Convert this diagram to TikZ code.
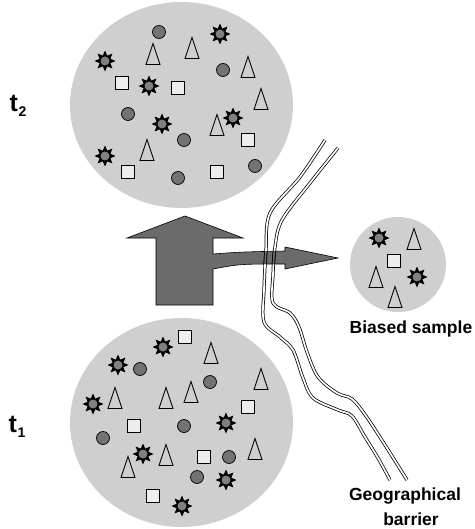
\documentclass[tikz,border=0pt]{standalone}
\usepackage{fontspec}
\setmainfont{Liberation Sans}
\usetikzlibrary{shapes.geometric}
\definecolor{popgray}{gray}{0.81}
\definecolor{dotgray}{gray}{0.45}
\definecolor{arrowgray}{gray}{0.42}
\definecolor{boxgray}{gray}{0.93}
\definecolor{coregray}{gray}{0.5}
\tikzset{
  pop/.style={
    ellipse,
    fill=popgray,
    inner sep=0pt},
  dot/.style={circle, fill=dotgray, draw=black, line width=0.7pt, minimum size=13, inner sep=0pt},
  box/.style={rectangle, fill=boxgray, draw=black, line width=0.7pt, minimum size=13, inner sep=0pt},
  spike/.style={
    star, star points=8, star point ratio=1.8,
    fill=black, minimum size=21, inner sep=0pt,
    path picture={\fill[coregray] (path picture bounding box.center) circle (4.5);}},
  tri/.pic={\draw[line width=0.85pt] (-7,10.5) -- (0,-10.5) -- (7,10.5) -- cycle;},
  lab/.style={font=\bfseries\fontsize{17.5}{25}\selectfont, anchor=base},
  tlab/.style={font=\bfseries\fontsize{25}{25}\selectfont},
  bank/.style={draw=black, double=white, double distance=1.7pt, line width=0.75pt},
}
% migration arrow, up and to the right
\newcommand\migpath{(156,305) -- (156,238) -- (127,238) -- (185,216) -- (243,238) -- (213,238) -- (213,254) .. controls (240,252) .. (285,251) -- (285,247) -- (338,258) -- (285,269) -- (285,264) .. controls (240,264) .. (213,269) -- (213,305) -- cycle}
% river banks
\newcommand\bankL{plot[smooth, tension=0.55] coordinates {(325,140) (300,177) (270,213) (266,250) (264,290) (264,322) (280,337) (293,350) (303,378) (313,398) (338,410) (352,416) (365,437) (378,458) (390,480)}}
\newcommand\bankR{plot[smooth, tension=0.55] coordinates {(338,148) (310,183) (282,220) (275,247) (273,275) (273,303) (290,313) (299,327) (307,352) (318,377) (337,393) (352,399) (366,416) (385,445) (407,480)}}
\begin{document}
\begin{tikzpicture}[x=1pt, y=-1pt]
  \useasboundingbox (0,0) rectangle (474,529);
  % populations
  \node[pop, minimum width=223, minimum height=206] (popTwo) at (181.5,105) {};
  \node[pop, minimum width=223, minimum height=209] (popOne) at (181.5,422.5) {};
  \node[pop, minimum width=96, minimum height=95]   (sample) at (398,264.5) {};
  % time labels
  \node[tlab] (tTwo) at (18,106) {t\kern0.5pt\raisebox{-5pt}{\fontsize{14}{14}\selectfont 2}};
  \node[tlab] (tOne) at (17,427) {t\kern0.5pt\raisebox{-5pt}{\fontsize{14}{14}\selectfont 1}};
  % t2
  \foreach \x/\y in {159/32, 223/70, 128/114, 184/140, 178/178, 255/166}
    \node[dot] at (\x,\y) {};
  \foreach \x/\y in {122/83, 178/88, 248/140, 128/172, 217/172}
    \node[box] at (\x,\y) {};
  \foreach \x/\y in {153/54, 192/48, 248/67, 261/99, 217/125, 147/150}
    \pic at (\x,\y) {tri};
  \foreach \x/\y in {220/34, 105/61, 149/86, 162/124, 233/118, 105/156}
    \node[spike] at (\x,\y) {};
  % t1
  \foreach \x/\y in {140/369, 210/382, 184/426, 103/438, 229/457, 197/477}
    \node[dot] at (\x,\y) {};
  \foreach \x/\y in {185/337, 248/407, 134/426, 204/457, 153/496}
    \node[box] at (\x,\y) {};
  \foreach \x/\y in {211/353, 115/398, 166/398, 191/392, 261/379, 255/449, 166/455, 128/467}
    \pic at (\x,\y) {tri};
  \foreach \x/\y in {163/347, 118/365, 93/404, 226/423, 143/454, 226/480, 182/506}
    \node[spike] at (\x,\y) {};
  % sample
  \node[box] at (394,261) {};
  \foreach \x/\y in {414/239, 376/277, 395/297}
    \pic at (\x,\y) {tri};
  \foreach \x/\y in {379/238, 417/277}
    \node[spike] at (\x,\y) {};
  % arrow and barrier
  \draw[fill=arrowgray, line width=0.6pt] \migpath;
  \draw[bank] \bankL;
  \draw[bank] \bankR;
  \begin{scope}
    \clip \migpath;
    \draw[bank, double=arrowgray] \bankL;
    \draw[bank, double=arrowgray] \bankR;
  \end{scope}
  \node[lab] (biased) at (411,333) {Biased sample};
  \node[lab] (geo) at (405,500) {Geographical};
  \node[lab] (barrier) at (411,525) {barrier};
\end{tikzpicture}
\end{document}
